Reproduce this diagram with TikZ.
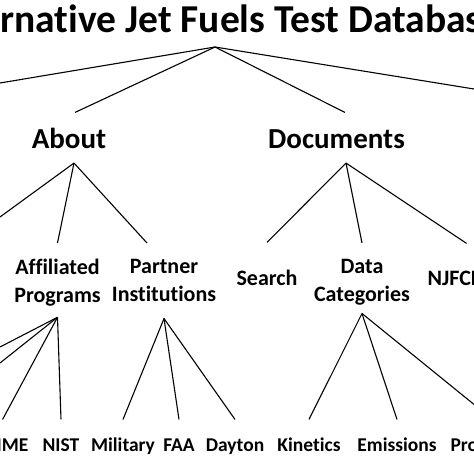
\documentclass[tikz,border=0pt]{standalone}
\usepackage{fontspec}
\setmainfont{Carlito}[Ligatures=NoCommon]
\begin{document}
\begin{tikzpicture}[x=1pt, y=-1pt, line width=1.1pt,
	titlebox/.style={font=\fontsize{39.5}{41}\selectfont\bfseries, inner sep=0pt, anchor=base west},
	lvltwo/.style={font=\fontsize{29}{31}\selectfont\bfseries, text height=20.5pt, text depth=0pt, inner xsep=0pt, inner ysep=14.5pt, anchor=base},
	lvlthree/.style={font=\fontsize{22}{28}\selectfont\bfseries, align=center, inner xsep=0pt, inner ysep=16pt, anchor=north},
	lvlfour/.style={font=\fontsize{19.5}{21}\selectfont\bfseries, text height=14pt, text depth=4pt, inner xsep=0pt, inner ysep=17pt, anchor=base}]
	\useasboundingbox (0,0) rectangle (474,474);
	\clip (0,0) rectangle (474,474);
	% top
	\node[titlebox] (db) at (0,32) {\llap{Alte}rnative Jet Fuels Test Databas\rlap{e}};
	\coordinate (root) at (215,47);
	\coordinate (rootL) at (0,83);
	\coordinate (rootR) at (474,89);
	% second row
	\node[lvltwo] (about) at (69,148) {About};
	\node[lvltwo] (docs) at (336.5,148) {Documents};
	\coordinate (aboutL) at (0,217);
	% third row
	\node[lvlthree] (affil) at (57.5,243) {Affiliated\\Programs};
	\node[lvlthree] (partner) at (164,243) {Partner\\Institutions};
	\node[lvlthree, anchor=base] (search) at (267,285) {Search};
	\node[lvlthree] (datacat) at (362,243) {Data\\Categories};
	\node[lvlthree, anchor=base west] (njfcp) at (427,285) {NJFCP};
	\coordinate (affilL) at (0,347);
	\coordinate (affilLL) at (0,363);
	% bottom row
	\node[lvlfour, anchor=base east] (ime) at (29,451) {IME};
	\node[lvlfour] (nist) at (61,451) {NIST};
	\node[lvlfour] (military) at (123,451) {Military};
	\node[lvlfour] (faa) at (179,451) {FAA};
	\node[lvlfour] (dayton) at (235,451) {Dayton};
	\node[lvlfour] (kinetics) at (309,451) {Kinetics};
	\node[lvlfour] (emissions) at (397,451) {Emissions};
	\node[lvlfour, anchor=base west] (props) at (450,451) {Properties};
	% links
	\draw (root) -- (rootL);
	\draw (root) -- ([xshift=6pt]about.north);
	\draw (root) -- ([xshift=8.5pt]docs.north);
	\draw (root) -- (rootR);
	\draw ([xshift=5pt]about.south) -- (aboutL);
	\draw ([xshift=5pt]about.south) -- (affil.north);
	\draw ([xshift=5pt]about.south) -- ([xshift=-17pt]partner.north);
	\draw ([xshift=9.5pt]docs.south) -- ([yshift=10.6pt]search.north);
	\draw ([xshift=9.5pt]docs.south) -- (datacat.north);
	\draw ([xshift=9.5pt]docs.south) -- ([xshift=11.5pt, yshift=10.6pt]njfcp.north);
	\draw ([yshift=6pt]affil.south) -- (affilL);
	\draw ([yshift=6pt]affil.south) -- (affilLL);
	\draw ([yshift=6pt]affil.south) -- ([xshift=-10pt]ime.north);
	\draw ([yshift=6pt]affil.south) -- (nist.north);
	\draw (partner.south) -- (military.north);
	\draw (partner.south) -- (faa.north);
	\draw (partner.south) -- (dayton.north);
	\draw ([yshift=8.6pt]datacat.south) -- (kinetics.north);
	\draw ([yshift=8.6pt]datacat.south) -- (emissions.north);
	\draw ([yshift=8.6pt]datacat.south) -- (props.north);
\end{tikzpicture}
\end{document}
